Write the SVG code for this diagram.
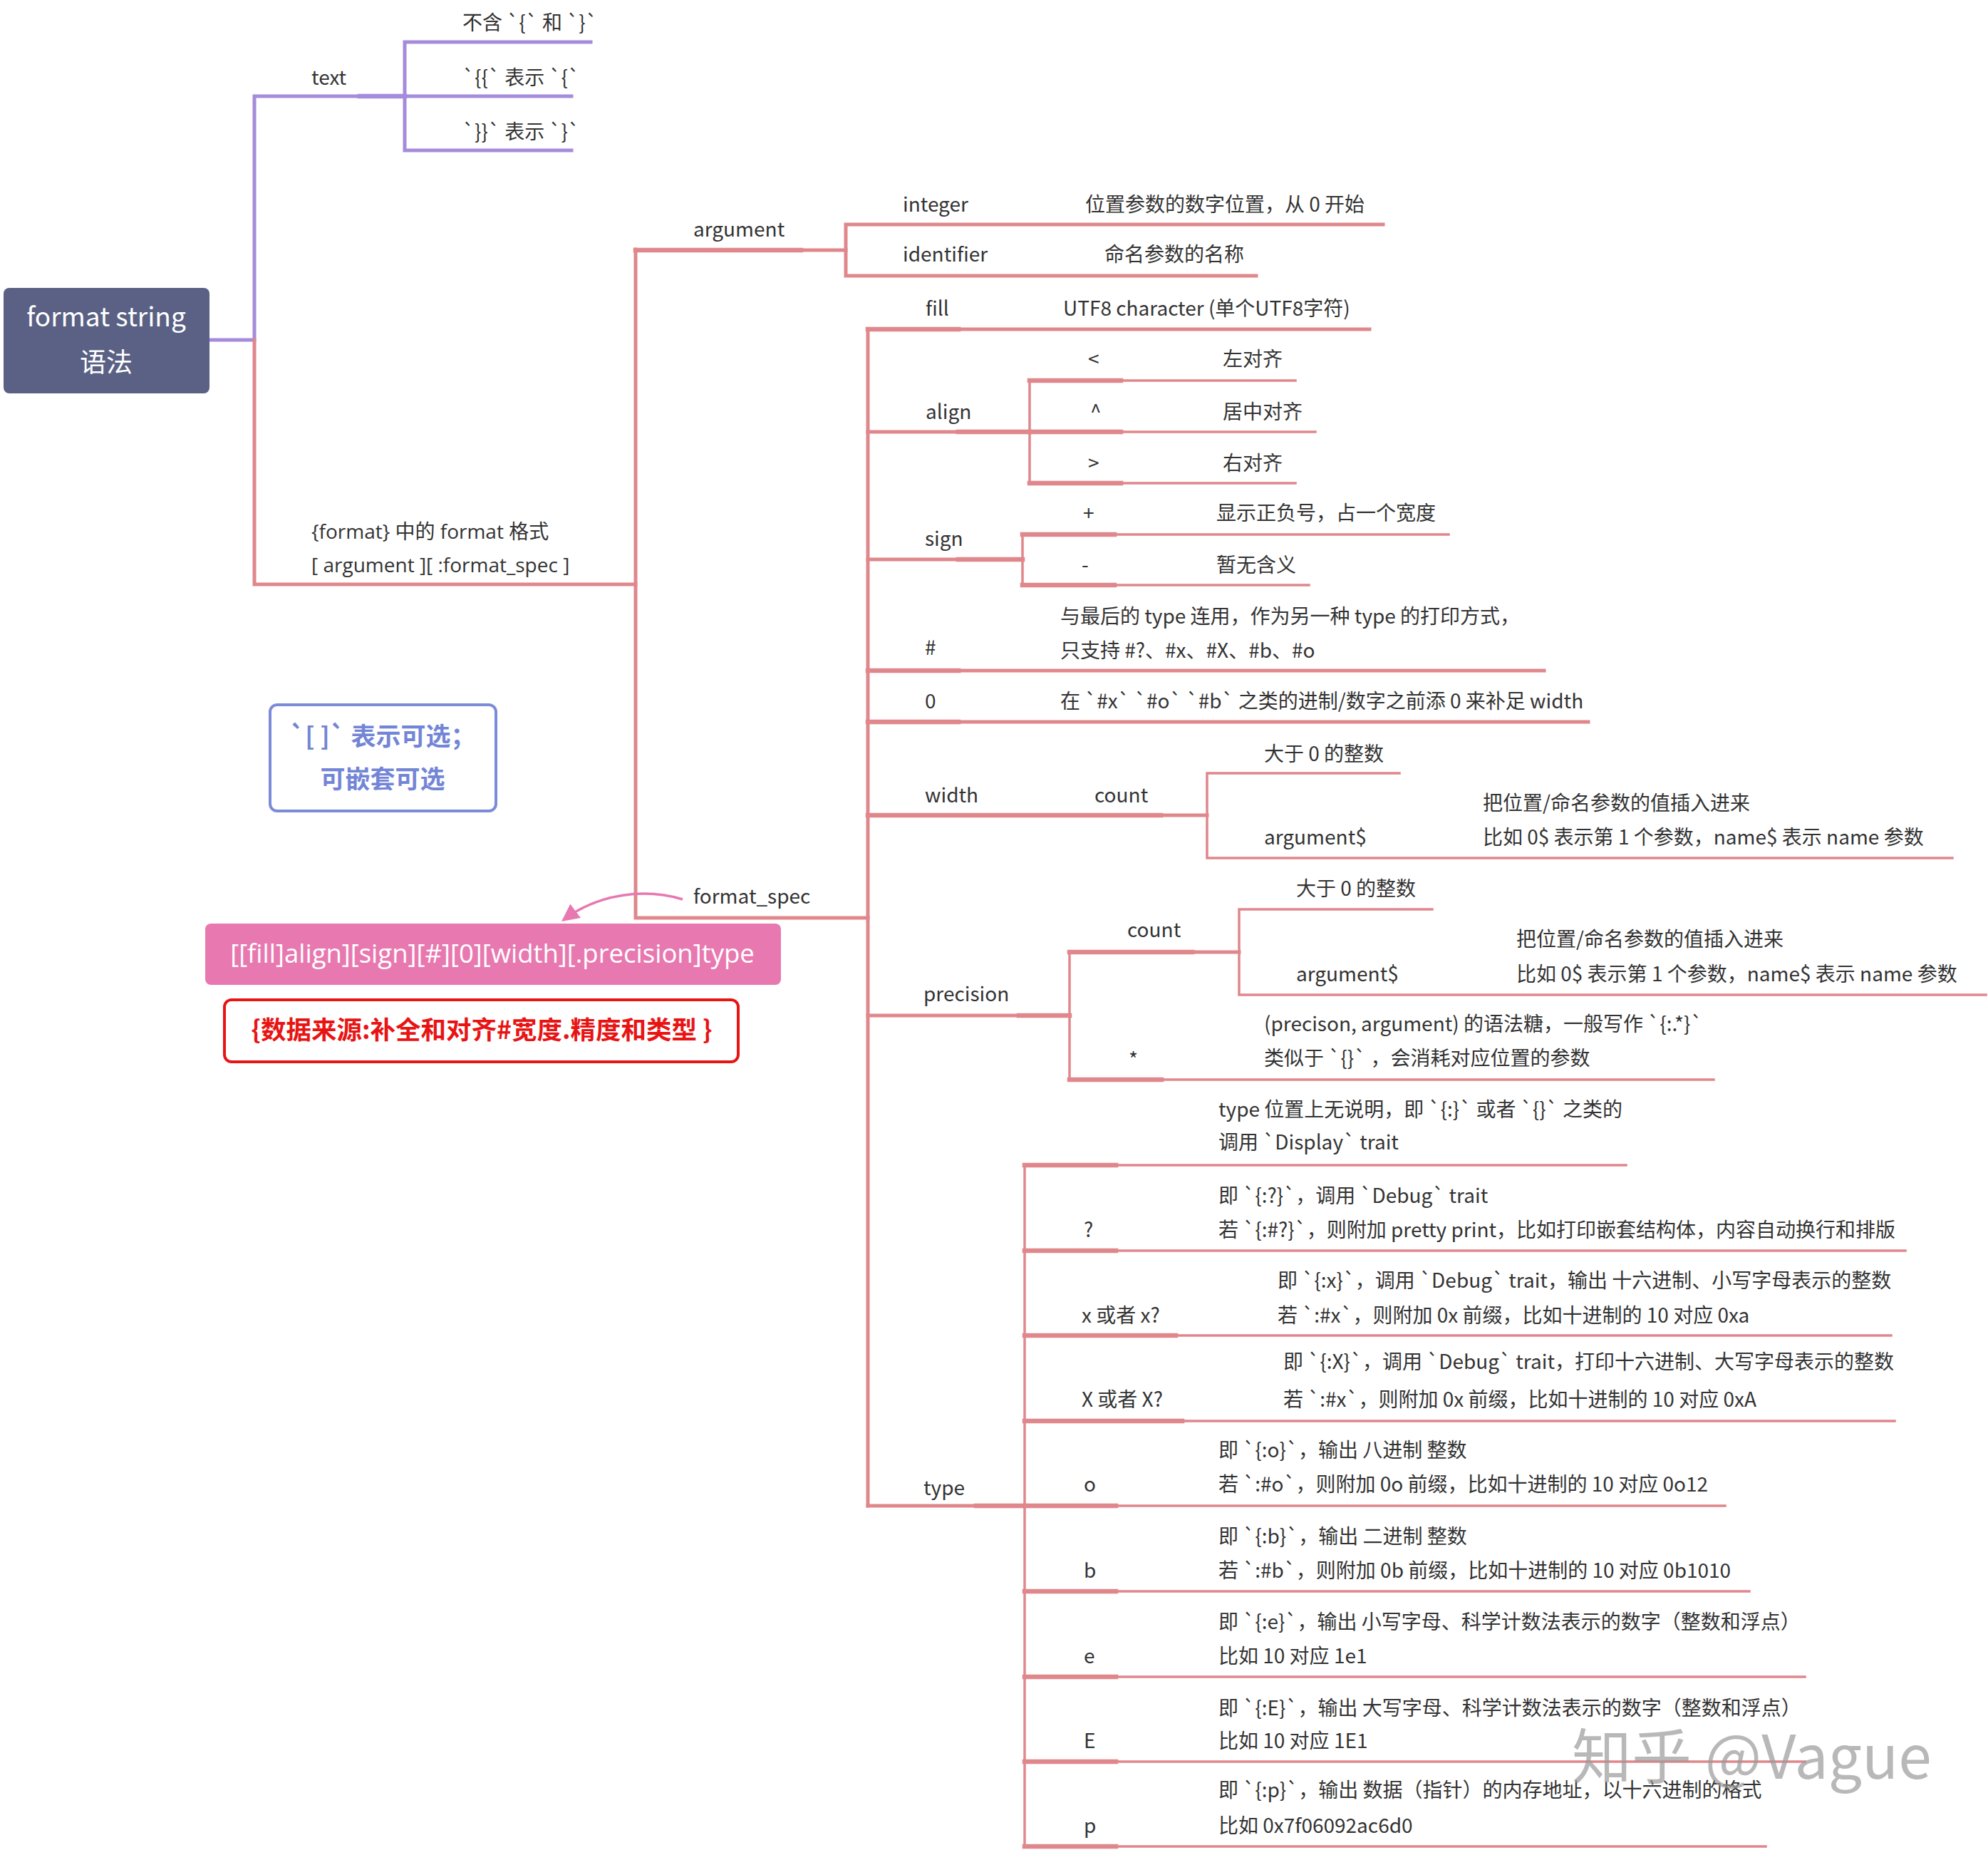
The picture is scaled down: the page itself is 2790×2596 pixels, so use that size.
<svg xmlns="http://www.w3.org/2000/svg" width="2790" height="2596" viewBox="0 0 2790 2596">
<style>
.t{font-family:"Noto Sans CJK SC","Noto Sans",sans-serif;font-size:28px;fill:#333}
.o{font-family:"Open Sans","Noto Sans CJK SC",sans-serif;font-size:28px;fill:#333}
.r{stroke:#e0878c;fill:none;stroke-linecap:square}
.p{stroke:#a58bdc;fill:none;stroke-linecap:square}
.w5{stroke-width:5}
.w4{stroke-width:3.5}
.w7{stroke-width:6.5}
</style>
<defs>
<marker id="ah" viewBox="0 0 10 10" refX="8" refY="5" markerWidth="7" markerHeight="7" orient="auto">
<path d="M0,0 L10,5 L0,10 z" fill="#e779b0"/>
</marker>
</defs>
<rect width="2790" height="2596" fill="#fff"/>

<g id="connectors">
<path class="p w5" d="M294 477 H357 V135 H568"/>
<path class="p w7" d="M505 135 H568"/>
<path class="p w5" d="M829 59 H568 V211 H802 M568 135 H802"/>
<path class="r w5" d="M357 477 V820 H892"/>
<path class="r w5" d="M892 350 V1288 H1218"/>
<path class="r w5" d="M892 351 H1187"/>
<path class="r w7" d="M892 351 H1124"/>
<path class="r w5" d="M1941 315 H1187 V387 H1763"/>
<path class="r w5" d="M1218 462 V2113"/>
<path class="r w5" d="M1218 462 H1922"/>
<path class="r w7" d="M1218 462 H1345"/>
<path class="r w5" d="M1218 606 H1445"/>
<path class="r w7" d="M1345 606 H1445"/>
<path class="r w4" d="M1818 534 H1445 V678 H1818 M1445 606 H1846"/>
<path class="r w7" d="M1445 534 H1573 M1445 606 H1573 M1445 678 H1573"/>
<path class="r w5" d="M1218 785 H1435"/>
<path class="r w7" d="M1345 785 H1435"/>
<path class="r w4" d="M2033 750 H1435 V821 H1837"/>
<path class="r w7" d="M1435 750 H1564 M1435 821 H1564"/>
<path class="r w5" d="M1218 941 H2167 M1218 1013 H2229"/>
<path class="r w7" d="M1218 941 H1345 M1218 1013 H1345"/>
<path class="r w5" d="M1218 1144 H1694"/>
<path class="r w7" d="M1218 1144 H1629"/>
<path class="r w4" d="M1964 1085 H1694 V1204 H2740"/>
<path class="r w5" d="M1218 1425 H1501"/>
<path class="r w7" d="M1430 1425 H1501"/>
<path class="r w4" d="M1501 1336 V1515 H2405"/>
<path class="r w7" d="M1501 1515 H1630"/>
<path class="r w5" d="M1501 1336 H1739"/>
<path class="r w7" d="M1501 1336 H1673"/>
<path class="r w4" d="M2010 1276 H1739 V1396 H2787"/>
<path class="r w5" d="M1218 2113 H1438"/>
<path class="r w7" d="M1370 2113 H1438"/>
<path class="r w4" d="M1438 1635 V2591"/>
<path class="r w4" d="M1438 1635 H2282 M1438 1755 H2674 M1438 1874 H2654 M1438 1994 H2659 M1438 2113 H2421 M1438 2233 H2455 M1438 2353 H2533 M1438 2472 H2533 M1438 2591 H2478"/>
<path class="r w7" d="M1438 1635 H1566 M1438 1755 H1566 M1438 1874 H1650 M1438 1994 H1659 M1438 2113 H1566 M1438 2233 H1566 M1438 2353 H1566 M1438 2472 H1566 M1438 2591 H1566"/>
<path d="M958 1262 C905 1246 840 1254 792 1290" fill="none" stroke="#e779b0" stroke-width="3.5" marker-end="url(#ah)"/>
</g>

<g id="root">
<rect x="5" y="404" width="289" height="148" rx="8" fill="#5a6184"/>
<text x="149" y="458" text-anchor="middle" font-family="Noto Sans CJK SC,Noto Sans,sans-serif" font-size="37" fill="#fff">format string</text>
<text x="149" y="522" text-anchor="middle" font-family="Noto Sans CJK SC,sans-serif" font-size="37" fill="#fff">语法</text>
</g>

<g id="n-text"><text class="t" x="437" y="119">text</text></g>
<g id="n-text1"><text class="t" x="649" y="42">不含 `{` 和 `}`</text></g>
<g id="n-text2"><text class="t" x="649" y="119">`{{` 表示 `{`</text></g>
<g id="n-text3"><text class="t" x="649" y="195">`}}` 表示 `}`</text></g>

<g id="n-format"><text class="o" x="437" y="756">{format} 中的 format 格式</text><text class="o" x="437" y="803">[ argument ][ :format_spec ]</text></g>

<g id="n-argument"><text class="t" x="973" y="332">argument</text></g>
<g id="n-integer"><text class="t" x="1267" y="297">integer</text></g>
<g id="n-integer-d"><text class="t" x="1523" y="297">位置参数的数字位置，从 0 开始</text></g>
<g id="n-identifier"><text class="t" x="1267" y="367">identifier</text></g>
<g id="n-identifier-d"><text class="t" x="1550" y="367">命名参数的名称</text></g>

<g id="n-format_spec"><text class="t" x="973" y="1268">format_spec</text></g>

<g id="n-fill"><text class="t" x="1299" y="443">fill</text></g>
<g id="n-fill-d"><text class="t" x="1492" y="443">UTF8 character (单个UTF8字符)</text></g>

<g id="n-align"><text class="t" x="1299" y="588">align</text></g>
<g id="n-lt"><text class="t" x="1527" y="514">&lt;</text><text class="t" x="1716" y="514">左对齐</text></g>
<g id="n-caret"><text class="t" x="1530" y="588">^</text><text class="t" x="1716" y="588">居中对齐</text></g>
<g id="n-gt"><text class="t" x="1527" y="660">&gt;</text><text class="t" x="1716" y="660">右对齐</text></g>

<g id="n-sign"><text class="t" x="1298" y="766">sign</text></g>
<g id="n-plus"><text class="t" x="1520" y="730">+</text><text class="t" x="1707" y="730">显示正负号，占一个宽度</text></g>
<g id="n-minus"><text class="t" x="1518" y="803">-</text><text class="t" x="1707" y="803">暂无含义</text></g>

<g id="n-hash"><text class="t" x="1298" y="919">#</text><text class="t" x="1488" y="875">与最后的 type 连用，作为另一种 type 的打印方式，</text><text class="t" x="1488" y="923">只支持 #?、#x、#X、#b、#o</text></g>
<g id="n-zero"><text class="t" x="1298" y="994">0</text><text class="t" x="1488" y="994">在 `#x` `#o` `#b` 之类的进制/数字之前添 0 来补足 width</text></g>

<g id="n-width"><text class="t" x="1298" y="1126">width</text></g>
<g id="n-width-count"><text class="t" x="1536" y="1126">count</text></g>
<g id="n-width-int"><text class="t" x="1774" y="1068">大于 0 的整数</text></g>
<g id="n-width-arg"><text class="t" x="1774" y="1185">argument$</text><text class="t" x="2081" y="1137">把位置/命名参数的值插入进来</text><text class="t" x="2081" y="1185">比如 0$ 表示第 1 个参数，name$ 表示 name 参数</text></g>

<g id="n-precision"><text class="t" x="1296" y="1405">precision</text></g>
<g id="n-prec-count"><text class="t" x="1582" y="1315">count</text></g>
<g id="n-prec-int"><text class="t" x="1819" y="1257">大于 0 的整数</text></g>
<g id="n-prec-arg"><text class="t" x="1819" y="1377">argument$</text><text class="t" x="2128" y="1328">把位置/命名参数的值插入进来</text><text class="t" x="2128" y="1377">比如 0$ 表示第 1 个参数，name$ 表示 name 参数</text></g>
<g id="n-star"><text class="t" x="1584" y="1497">*</text><text class="t" x="1774" y="1447">(precison, argument) 的语法糖，一般写作 `{:.*}`</text><text class="t" x="1774" y="1495">类似于 `{}` ，会消耗对应位置的参数</text></g>

<g id="n-type"><text class="t" x="1296" y="2098">type</text></g>
<g id="n-type-display"><text class="t" x="1710" y="1567">type 位置上无说明，即 `{:}` 或者 `{}` 之类的</text><text class="t" x="1710" y="1613">调用 `Display` trait</text></g>
<g id="n-type-q"><text class="t" x="1521" y="1736">?</text><text class="t" x="1710" y="1688">即 `{:?}`，调用 `Debug` trait</text><text class="t" x="1710" y="1736">若 `{:#?}`，则附加 pretty print，比如打印嵌套结构体，内容自动换行和排版</text></g>
<g id="n-type-x"><text class="t" x="1518" y="1856">x 或者 x?</text><text class="t" x="1793" y="1807">即 `{:x}`，调用 `Debug` trait，输出 十六进制、小写字母表示的整数</text><text class="t" x="1793" y="1856">若 `:#x`，则附加 0x 前缀，比如十进制的 10 对应 0xa</text></g>
<g id="n-type-X"><text class="t" x="1518" y="1974">X 或者 X?</text><text class="t" x="1801" y="1921">即 `{:X}`，调用 `Debug` trait，打印十六进制、大写字母表示的整数</text><text class="t" x="1801" y="1974">若 `:#x`，则附加 0x 前缀，比如十进制的 10 对应 0xA</text></g>
<g id="n-type-o"><text class="t" x="1521" y="2093">o</text><text class="t" x="1710" y="2045">即 `{:o}`，输出 八进制 整数</text><text class="t" x="1710" y="2093">若 `:#o`，则附加 0o 前缀，比如十进制的 10 对应 0o12</text></g>
<g id="n-type-b"><text class="t" x="1521" y="2214">b</text><text class="t" x="1710" y="2166">即 `{:b}`，输出 二进制 整数</text><text class="t" x="1710" y="2214">若 `:#b`，则附加 0b 前缀，比如十进制的 10 对应 0b1010</text></g>
<g id="n-type-e"><text class="t" x="1521" y="2334">e</text><text class="t" x="1710" y="2286">即 `{:e}`，输出 小写字母、科学计数法表示的数字（整数和浮点）</text><text class="t" x="1710" y="2334">比如 10 对应 1e1</text></g>
<g id="n-type-E"><text class="t" x="1521" y="2453">E</text><text class="t" x="1710" y="2407">即 `{:E}`，输出 大写字母、科学计数法表示的数字（整数和浮点）</text><text class="t" x="1710" y="2453">比如 10 对应 1E1</text></g>
<g id="n-type-p"><text class="t" x="1521" y="2572">p</text><text class="t" x="1710" y="2522">即 `{:p}`，输出 数据（指针）的内存地址，以十六进制的格式</text><text class="t" x="1710" y="2572">比如 0x7f06092ac6d0</text></g>

<g id="n-note">
<rect x="379" y="989" width="317" height="149" rx="10" fill="#fff" stroke="#7b8bd8" stroke-width="4"/>
<text x="537" y="1046" text-anchor="middle" font-family="Noto Sans CJK SC,sans-serif" font-size="35" font-weight="bold" fill="#7385d6">`[ ]` 表示可选；</text>
<text x="537" y="1106" text-anchor="middle" font-family="Noto Sans CJK SC,sans-serif" font-size="35" font-weight="bold" fill="#7385d6">可嵌套可选</text>
</g>

<g id="n-spec">
<rect x="288" y="1296" width="808" height="86" rx="8" fill="#e779b0"/>
<text x="691" y="1351" text-anchor="middle" font-family="Open Sans,Noto Sans,sans-serif" font-size="36.5" fill="#fff">[[fill]align][sign][#][0][width][.precision]type</text>
</g>

<g id="n-source">
<rect x="315" y="1403" width="721" height="87" rx="10" fill="#fff" stroke="#e81414" stroke-width="4"/>
<text x="676" y="1458" text-anchor="middle" font-family="Noto Sans CJK SC,sans-serif" font-size="35.5" font-weight="bold" fill="#e81414">{数据来源:补全和对齐#宽度.精度和类型 }</text>
</g>

<g id="watermark"><text x="2206" y="2496" font-family="Noto Sans CJK SC,sans-serif" font-size="84" fill="#9a9a9a" fill-opacity="0.7">知乎 @Vague</text></g>
</svg>
